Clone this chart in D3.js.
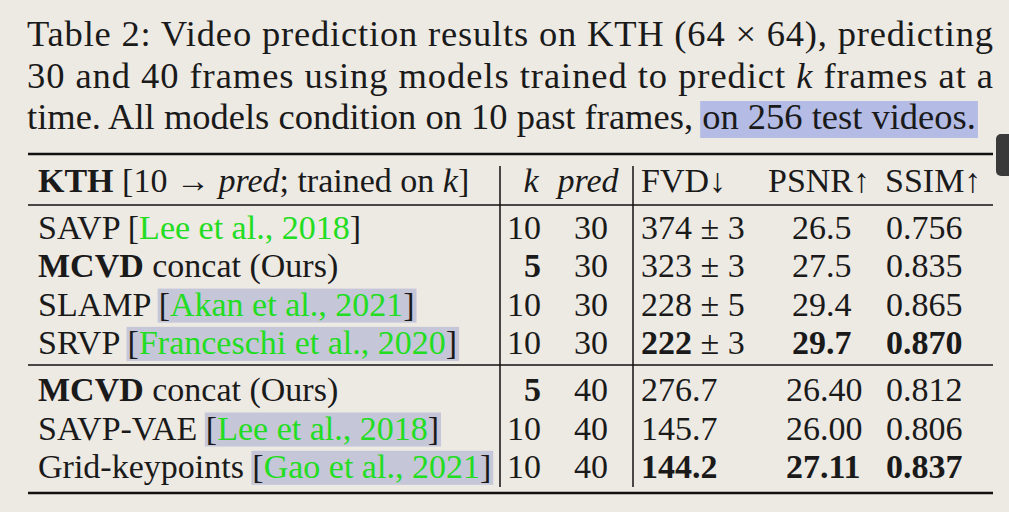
<!DOCTYPE html><html><head><meta charset="utf-8">
<script src="https://cdn.jsdelivr.net/npm/d3@7"></script>
<style>body{margin:0;background:#ede9e3;}svg{display:block}</style></head><body>
<script>
const captionLines = [
 [["Table 2: Video prediction results on KTH (64 × 64), predicting",""]],
 [["30 and 40 frames using models trained to predict ",""],["k","i"],[" frames at a",""]],
 [["time. All models condition on 10 past frames, ",""],["on 256 test videos.","h"]]
];
const methods = [["SAVP",false,"Lee et al., 2018",false],["MCVD",true," concat (Ours)",null],["SLAMP",false,"Akan et al., 2021",true],["SRVP",false,"Franceschi et al., 2020",true],
 ["MCVD",true," concat (Ours)",null],["SAVP-VAE",false,"Lee et al., 2018",true],["Grid-keypoints",false,"Gao et al., 2021",true]];
const kVals = ["10","5","10","10","5","10","10"];
const predVals = ["30","30","30","30","40","40","40"];
const fvd = ["374 ± 3","323 ± 3","228 ± 5","222 ± 3","276.7","145.7","144.2"];
const psnr = ["26.5","27.5","29.4","29.7","26.40","26.00","27.11"];
const ssim = ["0.756","0.835","0.865","0.870","0.812","0.806","0.837"];
const boldRows = [3,6];

const W=1009,H=512;
const svg=d3.select("body").append("svg").attr("width",W).attr("height",H).style("font-family","'Liberation Serif',serif").style("font-size","34px").attr("fill","#1a1a1a");
svg.append("rect").attr("width",W).attr("height",H).attr("fill","#ede9e3");
svg.append("rect").attr("x",996).attr("y",134).attr("width",20).attr("height",42).attr("rx",5).attr("fill","#3a3a3a");
const capY=d3.scaleLinear().domain([0,2]).range([46,129]);
const hlLayer=svg.append("g");
captionLines.forEach((ln,i)=>{
 const t=svg.append("text").attr("x",27).attr("y",capY(i)).style("font-size","36.5px").attr("textLength",i<2?966:null).attr("lengthAdjust","spacing");
 ln.forEach(s=>{const ts=t.append("tspan").text(s[0]); if(s[1]==="i")ts.style("font-style","italic");
   if(s[1]==="h"){const n=ts.node();const a=n.getStartPositionOfChar(0).x,b=n.getEndPositionOfChar(s[0].length-1).x;
     hlLayer.append("rect").attr("x",a-2).attr("y",capY(i)-28).attr("width",b-a+4).attr("height",37).attr("fill","#b4bbe4");}});
});
const rowY=d3.scaleLinear().domain([0,1]).range([239,277.3]);
const yOf=i=>i<4?rowY(i):rowY(i)+9;
const line=(x1,x2,y,w)=>svg.append("line").attr("x1",x1).attr("x2",x2).attr("y1",y).attr("y2",y).attr("stroke","#111").attr("stroke-width",w);
line(28,993,154,2.5);line(28,993,205,1.3);line(28,993,365,1.3);line(28,993,493,2.5);
[500,633].forEach(x=>svg.append("line").attr("x1",x).attr("x2",x).attr("y1",166).attr("y2",487).attr("stroke","#111").attr("stroke-width",1.5));
const h=svg.append("text").attr("x",38).attr("y",192);
h.append("tspan").text("KTH").style("font-weight","bold");h.append("tspan").text(" [10 → ");h.append("tspan").text("pred").style("font-style","italic");h.append("tspan").text("; trained on ");h.append("tspan").text("k").style("font-style","italic");h.append("tspan").text("]");
svg.append("text").attr("x",531).attr("y",192).attr("text-anchor","middle").style("font-style","italic").text("k");
svg.append("text").attr("x",588).attr("y",192).attr("text-anchor","middle").style("font-style","italic").text("pred");
svg.append("text").attr("x",641).attr("y",192).text("FVD↓");
svg.append("text").attr("x",768).attr("y",192).text("PSNR↑");
svg.append("text").attr("x",885).attr("y",192).text("SSIM↑");
const citeLayer=svg.append("g");
methods.forEach((m,i)=>{
 const y=yOf(i);
 const t=svg.append("text").attr("x",38).attr("y",y);
 t.append("tspan").text(m[0]).style("font-weight",m[1]?"bold":"normal");
 if(m[3]===null){t.append("tspan").text(m[2]);}
 else{ const o=t.append("tspan").text(" [");t.append("tspan").text(m[2]).attr("fill","#22dd22");const c=t.append("tspan").text("]");
   if(m[3]){const a=o.node().getStartPositionOfChar(1).x,b=c.node().getEndPositionOfChar(0).x;
     citeLayer.append("rect").attr("x",a-1).attr("y",y-27).attr("width",b-a+3).attr("height",34).attr("fill","#c6c6d9");}}
 const bold=boldRows.includes(i);
 svg.append("text").attr("x",541).attr("y",y).attr("text-anchor","end").style("font-weight",kVals[i]==="5"?"bold":"normal").text(kVals[i]);
 svg.append("text").attr("x",608).attr("y",y).attr("text-anchor","end").text(predVals[i]);
 const f=svg.append("text").attr("x",641).attr("y",y);
 const parts=fvd[i].split(" ± ");f.append("tspan").text(parts[0]).style("font-weight",bold?"bold":"normal");if(parts[1])f.append("tspan").text(" ± "+parts[1]);
 svg.append("text").attr("x",i<4?792:786).attr("y",y).style("font-weight",bold?"bold":"normal").text(psnr[i]);
 svg.append("text").attr("x",886).attr("y",y).style("font-weight",bold?"bold":"normal").text(ssim[i]);
});
</script></body></html>
